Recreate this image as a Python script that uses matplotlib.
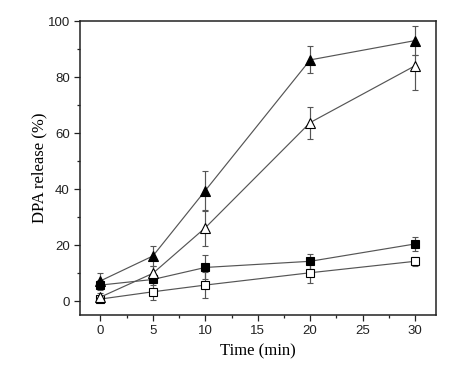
import matplotlib
matplotlib.use("Agg")
import matplotlib.pyplot as plt
from matplotlib.ticker import MultipleLocator

time = [0, 5, 10, 20, 30]

filled_tri = [7.2, 16.1, 39.5, 86.2, 93.1]
filled_tri_err = [2.7, 3.7, 6.9, 4.8, 5.1]

open_tri = [1.4, 9.9, 26.2, 63.8, 84.1]
open_tri_err_lo = [1.5, 2.5, 6.7, 5.8, 8.5]
open_tri_err_hi = [1.5, 2.5, 6.1, 5.4, 4.0]

filled_sq = [5.7, 7.7, 12.0, 14.2, 20.4]
filled_sq_err = [1.8, 1.8, 4.3, 2.6, 2.5]

open_sq = [0.7, 3.3, 5.7, 10.1, 14.2]
open_sq_err = [1.0, 3.0, 4.7, 3.8, 1.7]

fig = plt.figure(figsize=(4.74, 3.79), dpi=100)
ax = fig.add_axes([79.5/474, 1 - 315/379, (436 - 79.5)/474, (315 - 21.3)/379])

lc = "#555555"
ec = "#555555"
base = dict(color=lc, lw=0.85, ecolor=ec, elinewidth=0.85, capsize=2.5, capthick=0.85,
            markeredgecolor="black", markeredgewidth=0.8)

ax.errorbar(time, open_sq, yerr=open_sq_err, marker="s", markerfacecolor="white", markersize=5.8, **base)
ax.errorbar(time, filled_sq, yerr=filled_sq_err, marker="s", markerfacecolor="black", markersize=5.8, **base)
ax.errorbar(time, open_tri, yerr=[open_tri_err_lo, open_tri_err_hi], marker="^", markerfacecolor="white", markersize=6.5, **base)
ax.errorbar(time, filled_tri, yerr=filled_tri_err, marker="^", markerfacecolor="black", markersize=6.5, **base)

ax.set_xlim(-2, 32)
ax.set_ylim(-5, 100)
ax.xaxis.set_major_locator(MultipleLocator(5))
ax.xaxis.set_minor_locator(MultipleLocator(2.5))
ax.yaxis.set_major_locator(MultipleLocator(20))
ax.yaxis.set_minor_locator(MultipleLocator(10))
ax.tick_params(which="both", direction="out", width=0.9, colors="#222222")
ax.tick_params(which="major", length=4)
ax.tick_params(which="minor", length=2.5)
ax.tick_params(labelsize=9.5, pad=3)
for lab in ax.get_xticklabels() + ax.get_yticklabels():
    lab.set_fontfamily("Liberation Sans")
for s in ax.spines.values():
    s.set_linewidth(1.1)
    s.set_color("#222222")

ax.set_xlabel("Time (min)", fontfamily="Liberation Serif", fontsize=12, labelpad=5)
ax.set_ylabel("DPA release (%)", fontfamily="Liberation Serif", fontsize=12, labelpad=0)

fig.savefig("out.png", dpi=100)
